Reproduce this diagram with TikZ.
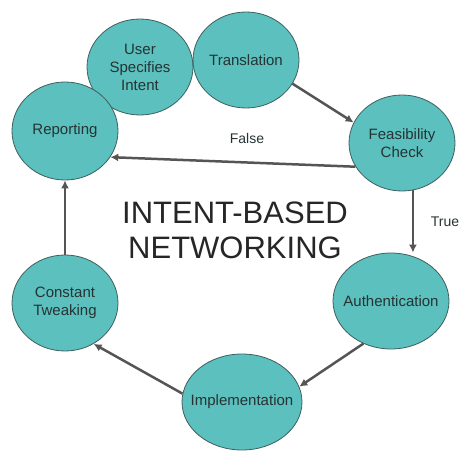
\documentclass[tikz,border=0pt]{standalone}
\usepackage{fontspec}
\setmainfont{Liberation Sans}
\usetikzlibrary{shapes.geometric,arrows.meta}
\definecolor{tealfill}{HTML}{5BC0BE}
\definecolor{tealline}{HTML}{3E5F5D}
\definecolor{arrowgray}{HTML}{555555}
\definecolor{txt}{HTML}{263333}
\tikzset{
  stage/.style={ellipse, draw=tealline, line width=0.8pt, fill=tealfill, inner sep=0pt,
    minimum width=106pt, minimum height=96pt,
    label={[align=center, text=txt, font=\fontsize{15}{18}\selectfont]center:#1}},
  flow/.style={draw=arrowgray, line width=2.5pt, -{Latex[length=8pt,width=8pt]}},
  lbl/.style={text=txt, font=\fontsize{14}{16}\selectfont},
}
\begin{document}
\begin{tikzpicture}[x=1pt,y=-1pt]
\useasboundingbox (0,0) rectangle (474,463);
\node[stage={User\\Specifies\\Intent}] (us) at (140,67) {};
\node[stage={Translation}] (tr) at (246,60) {};
\node[stage={Feasibility\\Check}] (fc) at (402,143) {};
\node[stage={Authentication}, minimum width=116pt] (au) at (391,301) {};
\node[stage={Implementation}, minimum width=120pt] (im) at (242,402) {};
\node[stage={Constant\\Tweaking}] (ct) at (65,303) {};
\node[stage={Reporting}, minimum height=98pt] (rp) at (65,131) {};
\node[font=\fontsize{31}{35}\selectfont, text=black!85, align=center] (title) at (235,230) {INTENT-BASED\\NETWORKING};
\node[lbl] (false) at (247,138) {False};
\node[lbl] (true) at (445,222) {True};
\draw[flow] (tr.-27) -- (fc.157);
\draw[flow] (fc.207) -- (rp.-30);
\draw[flow] (fc.-77) -- (fc.-77 |- au.north);
\draw[flow] (au.237) -- (im.15);
\draw[flow] (im.172) -- (ct.-55);
\draw[flow] (ct.north) -- (rp.south);
\end{tikzpicture}
\end{document}
